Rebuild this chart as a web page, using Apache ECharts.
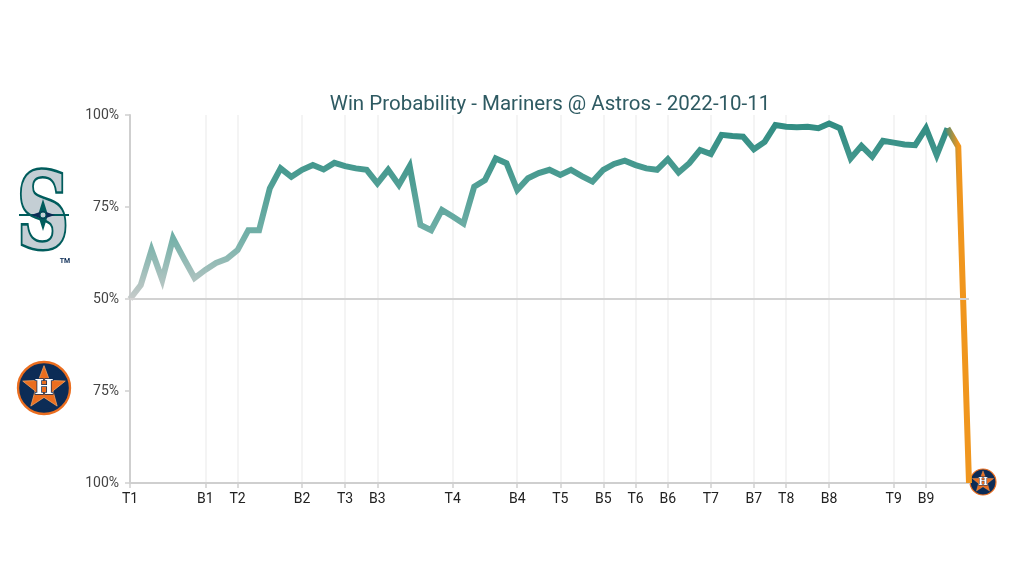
<!DOCTYPE html>
<html>
<head>
<meta charset="utf-8">
<script src="https://cdn.jsdelivr.net/npm/echarts@6/dist/echarts.min.js"></script>
<style>html,body{margin:0;padding:0;background:#fff}#c{width:1024px;height:576px}</style>
</head>
<body>
<div id="c"></div>
<script>
// Inning labels and the play index where each half-inning starts
const innings = ['T1','B1','T2','B2','T3','B3','T4','B4','T5','B5','T6','B6','T7','B7','T8','B8','T9','B9'];
const inningStart = [0,7,10,16,20,23,30,36,40,44,47,50,54,58,61,65,71,74];
// Mariners win probability after each play (0..1); 1 = Mariners win, 0 = Astros win
const marinersWP = [
  0.500,0.538,0.633,0.552,0.665,0.610,0.557,0.579,0.598,0.609,
  0.633,0.687,0.687,0.801,0.855,0.832,0.851,0.864,0.852,0.870,
  0.861,0.855,0.851,0.814,0.851,0.810,0.861,0.701,0.687,0.742,
  0.724,0.705,0.805,0.823,0.882,0.869,0.796,0.828,0.842,0.851,
  0.837,0.851,0.834,0.819,0.851,0.867,0.876,0.864,0.855,0.851,
  0.880,0.844,0.869,0.905,0.894,0.946,0.943,0.941,0.907,0.927,
  0.973,0.968,0.967,0.968,0.964,0.977,0.964,0.882,0.916,0.887,
  0.930,0.925,0.920,0.918,0.964,0.891,0.964,0.914,0.000
];
const yTicks = [0, 0.25, 0.5, 0.75, 1];
const title = 'Win Probability - Mariners @ Astros - 2022-10-11';

const swingStart = 76; // last Mariners peak before the walk-off drop
const playCats = marinersWP.map((_, i) => {
  const k = inningStart.indexOf(i);
  return k >= 0 ? innings[k] : String(i);
});
const isTick = (i) => inningStart.indexOf(i) >= 0;
const tealPart = marinersWP.map((v, i) => i <= swingStart ? v : null);
const orangePart = marinersWP.map((v, i) => i >= swingStart ? v : null);

const chart = echarts.init(document.getElementById('c'), null, {renderer: 'canvas'});
const FONT = 'Roboto';
chart.setOption({
  animation: false,
  backgroundColor: '#ffffff',
  title: {
    text: title, left: 545, top: 89, textAlign: 'center',
    textStyle: {fontFamily: FONT, fontSize: 20.5, fontWeight: 'normal', color: '#2e5a62'}
  },
  grid: {left: 130, right: 55, top: 115, bottom: 93},
  xAxis: {
    type: 'category', data: playCats, boundaryGap: false,
    axisLine: {lineStyle: {color: '#cfcfcf', width: 2}},
    axisTick: {show: true, interval: (i) => isTick(i), length: 5, lineStyle: {color: '#cfcfcf', width: 1.5}},
    axisLabel: {interval: (i) => isTick(i), fontFamily: FONT, fontSize: 14, color: '#222', margin: 9},
    splitLine: {show: true, interval: (i) => isTick(i) && i > 0, lineStyle: {color: '#f0f0f0', width: 1.5}}
  },
  yAxis: {
    type: 'value', min: 0, max: 1, interval: 0.25,
    axisLine: {show: true, lineStyle: {color: '#cfcfcf', width: 2}},
    axisTick: {show: true, length: 5, lineStyle: {color: '#cfcfcf', width: 1.5}},
    splitLine: {show: false},
    axisLabel: {
      fontFamily: FONT, fontSize: 14, color: '#444', margin: 11,
      formatter: (v) => Math.round((v >= 0.5 ? v : 1 - v) * 100) + '%'
    }
  },
  visualMap: {
    show: false, type: 'continuous', seriesIndex: 0, dimension: 1,
    min: 0.5, max: 1.0,
    inRange: {color: ['#c6cac9', '#74b1a9', '#4b9c92', '#2d8a80']}
  },
  series: [
    {
      type: 'line', data: tealPart, showSymbol: false, symbol: 'none',
      lineStyle: {width: 6, join: 'miter'},
      markLine: {
        silent: true, symbol: 'none', label: {show: false},
        lineStyle: {color: '#d2d2d2', width: 2, type: 'solid'},
        data: [{yAxis: 0.5}]
      }
    },
    {
      type: 'line', data: orangePart, showSymbol: false, symbol: 'none',
      lineStyle: {
        width: 6, join: 'miter',
        color: new echarts.graphic.LinearGradient(0, 0, 1, 0, [
          {offset: 0, color: '#3a8a7c'}, {offset: 0.5, color: '#f0961e'}, {offset: 1, color: '#f0961e'}
        ])
      }
    }
  ]
});

// ---- team logos (decorative) ----
function astrosLogo(cx, cy, r) {
  const pts = [];
  const R = r * 0.86, rIn = R * 0.42;
  for (let k = 0; k < 10; k++) {
    const a = -Math.PI / 2 + k * Math.PI / 5;
    const rr = k % 2 === 0 ? R : rIn;
    pts.push([cx + rr * Math.cos(a), cy + rr * Math.sin(a)]);
  }
  return {
    type: 'group', silent: true,
    children: [
      {type: 'circle', shape: {cx, cy, r}, style: {fill: '#0c2c56', stroke: '#eb6e1f', lineWidth: Math.max(1.2, r * 0.09)}},
      {type: 'circle', shape: {cx, cy, r: r * 0.84}, style: {fill: 'none', stroke: '#0c2c56', lineWidth: r * 0.05}},
      {type: 'polygon', shape: {points: pts}, style: {fill: '#eb6e1f', stroke: '#f4a460', lineWidth: r * 0.03}},
      {type: 'text', x: cx, y: cy + r * 0.03, style: {
        text: 'H', fontFamily: 'DejaVu Serif', fontWeight: 'bold', fontSize: r * 0.78,
        fill: '#ffffff', stroke: '#0c2c56', lineWidth: r * 0.06, align: 'center', verticalAlign: 'middle'}}
    ]
  };
}
function marinersLogo(cx, cy) {
  return {
    type: 'group', silent: true,
    children: [
      {type: 'text', x: cx, y: cy + 2, scaleX: 0.72, scaleY: 1.05, style: {
        text: 'S', fontFamily: 'DejaVu Serif', fontWeight: 'bold', fontSize: 100,
        fill: '#c4ced4', stroke: '#005c5c', lineWidth: 5, align: 'center', verticalAlign: 'middle'}},
      {type: 'line', shape: {x1: cx - 24, y1: cy - 4, x2: cx + 26, y2: cy - 4}, style: {stroke: '#005c5c', lineWidth: 2}},
      {type: 'polygon', shape: {points: [[cx, cy - 20], [cx + 5, cy - 4], [cx, cy + 12], [cx - 5, cy - 4]]}, style: {fill: '#005c5c'}},
      {type: 'polygon', shape: {points: [[cx - 12, cy - 4], [cx, cy - 8], [cx + 12, cy - 4], [cx, cy]]}, style: {fill: '#0c2c56'}},
      {type: 'circle', shape: {cx, cy: cy - 4, r: 3}, style: {fill: '#c4ced4', stroke: '#005c5c', lineWidth: 1}},
      {type: 'text', x: cx + 22, y: cy + 42, style: {text: 'TM', fontFamily: 'Roboto', fontWeight: 'bold', fontSize: 7, fill: '#0c2c56', align: 'center', verticalAlign: 'middle'}}
    ]
  };
}
const endPt = chart.convertToPixel({gridIndex: 0}, [marinersWP.length - 1, marinersWP[marinersWP.length - 1]]);
chart.setOption({
  graphic: [
    marinersLogo(43, 219),
    astrosLogo(44, 388, 26),
    astrosLogo(endPt[0] + 14, endPt[1] - 1, 13)
  ]
});
</script>
</body>
</html>
